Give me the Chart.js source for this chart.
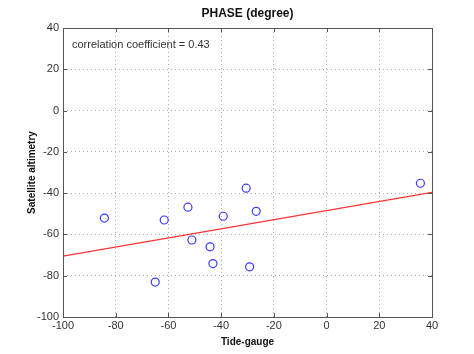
<!DOCTYPE html>
<html>
<head>
<meta charset="utf-8">
<script src="https://cdn.jsdelivr.net/npm/chart.js@4.4.1/dist/chart.umd.min.js"></script>
<style>
  html, body { margin: 0; padding: 0; background: #fff; }
  #wrap { width: 474px; height: 354px; }
</style>
</head>
<body>
<div id="wrap"><canvas id="chart" width="474" height="354"></canvas></div>
<script>
// tide-gauge vs satellite altimetry phases (degree)
const tideGauge = [-84.3, -65.0, -61.6, -52.6, -51.1, -44.2, -43.1, -39.2, -30.5, -26.7, -29.2, 35.6];
const altimetry = [-52.1, -83.1, -53.0, -46.8, -62.7, -66.0, -74.1, -51.2, -37.6, -48.8, -75.7, -35.2];
// regression line end points
const fitX = [-100, 40];
const fitY = [-70.5, -39.6];
const tickValues = [-100, -80, -60, -40, -20, 0, 20, 40];
const titleText = "PHASE (degree)";
const noteText = "correlation coefficient = 0.43";

const font = "'Liberation Sans', Arial, sans-serif";

// box round the plot, small inward ticks, title over the plot and the note text
const framePlugin = {
  id: "frame",
  afterDraw(chart) {
    const ctx = chart.ctx;
    const a = chart.chartArea;
    const xs = chart.scales.x;
    const ys = chart.scales.y;
    ctx.save();
    ctx.strokeStyle = "#555";
    ctx.lineWidth = 1;
    tickValues.forEach((v) => {
      let px = Math.round(xs.getPixelForValue(v)) + 0.5;
      ctx.beginPath();
      ctx.moveTo(px, a.bottom); ctx.lineTo(px, a.bottom - 4);
      ctx.moveTo(px, a.top); ctx.lineTo(px, a.top + 4);
      ctx.stroke();
      let py = Math.round(ys.getPixelForValue(v)) + 0.5;
      ctx.beginPath();
      ctx.moveTo(a.left, py); ctx.lineTo(a.left + 4, py);
      ctx.moveTo(a.right, py); ctx.lineTo(a.right - 4, py);
      ctx.stroke();
    });
    ctx.strokeRect(Math.round(a.left) + 0.5, Math.round(a.top) + 0.5,
      Math.round(a.right - a.left), Math.round(a.bottom - a.top));
    ctx.fillStyle = "#333";
    ctx.font = "11px " + font;
    ctx.textBaseline = "middle";
    ctx.fillText(noteText, a.left + 9, a.top + 17);
    ctx.fillStyle = "#111";
    ctx.font = "bold 12px " + font;
    ctx.textAlign = "center";
    ctx.fillText(titleText, (a.left + a.right) / 2, a.top - 14);
    ctx.restore();
  }
};

new Chart(document.getElementById("chart"), {
  type: "scatter",
  data: {
    datasets: [
      {
        label: "points",
        data: tideGauge.map((x, i) => ({ x: x, y: altimetry[i] })),
        pointStyle: "circle",
        pointRadius: 4,
        borderColor: "#3a3aff",
        backgroundColor: "rgba(0,0,0,0)",
        borderWidth: 1.2,
        order: 1
      },
      {
        type: "line",
        label: "fit",
        data: fitX.map((x, i) => ({ x: x, y: fitY[i] })),
        borderColor: "#ff3333",
        borderWidth: 1.2,
        pointRadius: 0,
        fill: false,
        order: 2
      }
    ]
  },
  options: {
    responsive: false,
    animation: false,
    events: [],
    layout: { padding: { left: 26, right: 42, top: 28, bottom: 6 } },
    plugins: {
      legend: { display: false },
      tooltip: { enabled: false },
      title: { display: false }
    },
    scales: {
      x: {
        type: "linear",
        min: -100,
        max: 40,
        afterBuildTicks: (s) => { s.ticks = tickValues.map((v) => ({ value: v })); },
        afterFit: (s) => { s.height = 31; },
        ticks: { color: "#333", font: { family: font, size: 11 }, padding: 2 },
        grid: { color: "#aaa", lineWidth: 1, drawTicks: false },
        border: { display: false, dash: [1, 3] },
        title: {
          display: true,
          text: "Tide-gauge",
          color: "#111",
          font: { family: font, size: 10, weight: "bold" },
          padding: { top: 0, bottom: 0 }
        }
      },
      y: {
        type: "linear",
        min: -100,
        max: 40,
        afterBuildTicks: (s) => { s.ticks = tickValues.map((v) => ({ value: v })); },
        afterFit: (s) => { s.width = 37; },
        ticks: { color: "#333", font: { family: font, size: 11 }, padding: 4 },
        grid: { color: "#aaa", lineWidth: 1, drawTicks: false },
        border: { display: false, dash: [1, 3] },
        title: {
          display: true,
          text: "Satellite altimetry",
          color: "#111",
          font: { family: font, size: 10, weight: "bold" },
          padding: { top: 0, bottom: 0 }
        }
      }
    }
  },
  plugins: [framePlugin]
});
</script>
</body>
</html>
